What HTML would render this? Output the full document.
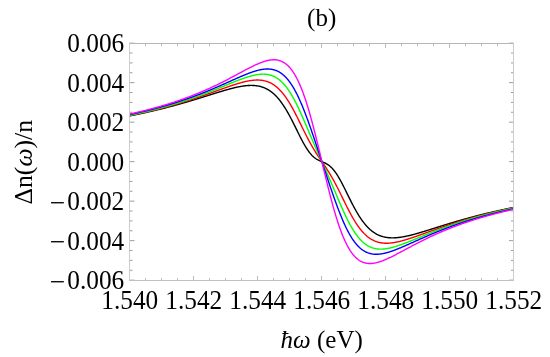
<!DOCTYPE html>
<html><head><meta charset="utf-8"><style>
html,body{margin:0;padding:0;background:#fff;}
svg{display:block;}
text{font-family:"Liberation Serif","Times New Roman",serif;font-size:25.3px;fill:#000;}
</style></head><body>
<svg width="550" height="357" viewBox="0 0 550 357">
<rect x="0" y="0" width="550" height="357" fill="#fff"/>
<text x="321.7" y="26.3" text-anchor="middle" style="font-size:25px">(b)</text>
<g fill="none" stroke-width="1.4" stroke-linejoin="round">
<path d="M129.50,115.92 L130.00,115.82 L130.50,115.72 L131.00,115.62 L131.50,115.52 L132.00,115.42 L132.50,115.32 L133.00,115.22 L133.50,115.12 L134.00,115.02 L134.50,114.92 L135.00,114.82 L135.50,114.72 L136.00,114.61 L136.50,114.51 L137.00,114.41 L137.50,114.30 L138.00,114.20 L138.50,114.09 L139.00,113.99 L139.50,113.88 L140.00,113.78 L140.50,113.67 L141.00,113.56 L141.50,113.46 L142.00,113.35 L142.50,113.24 L143.00,113.13 L143.50,113.02 L144.00,112.92 L144.50,112.81 L145.00,112.70 L145.50,112.59 L146.00,112.48 L146.50,112.36 L147.00,112.25 L147.50,112.14 L148.00,112.03 L148.50,111.92 L149.00,111.80 L149.50,111.69 L150.00,111.58 L150.50,111.46 L151.00,111.35 L151.50,111.23 L152.00,111.12 L152.50,111.00 L153.00,110.88 L153.50,110.77 L154.00,110.65 L154.50,110.53 L155.00,110.41 L155.50,110.29 L156.00,110.17 L156.50,110.06 L157.00,109.94 L157.50,109.81 L158.00,109.69 L158.50,109.57 L159.00,109.45 L159.50,109.33 L160.00,109.21 L160.50,109.08 L161.00,108.96 L161.50,108.84 L162.00,108.71 L162.50,108.59 L163.00,108.46 L163.50,108.34 L164.00,108.21 L164.50,108.08 L165.00,107.96 L165.50,107.83 L166.00,107.70 L166.50,107.57 L167.00,107.44 L167.50,107.31 L168.00,107.19 L168.50,107.06 L169.00,106.92 L169.50,106.79 L170.00,106.66 L170.50,106.53 L171.00,106.40 L171.50,106.26 L172.00,106.13 L172.50,106.00 L173.00,105.86 L173.50,105.73 L174.00,105.59 L174.50,105.46 L175.00,105.32 L175.50,105.19 L176.00,105.05 L176.50,104.91 L177.00,104.77 L177.50,104.64 L178.00,104.50 L178.50,104.36 L179.00,104.22 L179.50,104.08 L180.00,103.94 L180.50,103.80 L181.00,103.66 L181.50,103.52 L182.00,103.37 L182.50,103.23 L183.00,103.09 L183.50,102.95 L184.00,102.80 L184.50,102.66 L185.00,102.51 L185.50,102.37 L186.00,102.22 L186.50,102.08 L187.00,101.93 L187.50,101.78 L188.00,101.64 L188.50,101.49 L189.00,101.34 L189.50,101.19 L190.00,101.05 L190.50,100.90 L191.00,100.75 L191.50,100.60 L192.00,100.45 L192.50,100.30 L193.00,100.15 L193.50,100.00 L194.00,99.85 L194.50,99.69 L195.00,99.54 L195.50,99.39 L196.00,99.24 L196.50,99.09 L197.00,98.93 L197.50,98.78 L198.00,98.63 L198.50,98.47 L199.00,98.32 L199.50,98.16 L200.00,98.01 L200.50,97.85 L201.00,97.70 L201.50,97.54 L202.00,97.39 L202.50,97.23 L203.00,97.08 L203.50,96.92 L204.00,96.76 L204.50,96.61 L205.00,96.45 L205.50,96.29 L206.00,96.14 L206.50,95.98 L207.00,95.82 L207.50,95.67 L208.00,95.51 L208.50,95.35 L209.00,95.20 L209.50,95.04 L210.00,94.88 L210.50,94.72 L211.00,94.57 L211.50,94.41 L212.00,94.25 L212.50,94.10 L213.00,93.94 L213.50,93.78 L214.00,93.63 L214.50,93.47 L215.00,93.32 L215.50,93.16 L216.00,93.01 L216.50,92.85 L217.00,92.70 L217.50,92.54 L218.00,92.39 L218.50,92.23 L219.00,92.08 L219.50,91.93 L220.00,91.78 L220.50,91.62 L221.00,91.47 L221.50,91.32 L222.00,91.17 L222.50,91.02 L223.00,90.87 L223.50,90.73 L224.00,90.58 L224.50,90.43 L225.00,90.29 L225.50,90.14 L226.00,90.00 L226.50,89.86 L227.00,89.72 L227.50,89.58 L228.00,89.44 L228.50,89.30 L229.00,89.16 L229.50,89.03 L230.00,88.89 L230.50,88.76 L231.00,88.63 L231.50,88.50 L232.00,88.37 L232.50,88.24 L233.00,88.12 L233.50,87.99 L234.00,87.87 L234.50,87.75 L235.00,87.63 L235.50,87.52 L236.00,87.41 L236.50,87.29 L237.00,87.18 L237.50,87.08 L238.00,86.97 L238.50,86.87 L239.00,86.77 L239.50,86.67 L240.00,86.58 L240.50,86.49 L241.00,86.40 L241.50,86.32 L242.00,86.23 L242.50,86.15 L243.00,86.08 L243.50,86.01 L244.00,85.94 L244.50,85.87 L245.00,85.81 L245.50,85.75 L246.00,85.70 L246.50,85.65 L247.00,85.61 L247.50,85.57 L248.00,85.53 L248.50,85.50 L249.00,85.47 L249.50,85.45 L250.00,85.43 L250.50,85.42 L251.00,85.42 L251.50,85.42 L252.00,85.42 L252.50,85.43 L253.00,85.45 L253.50,85.47 L254.00,85.50 L254.50,85.54 L255.00,85.58 L255.50,85.63 L256.00,85.68 L256.50,85.75 L257.00,85.82 L257.50,85.90 L258.00,85.98 L258.50,86.08 L259.00,86.18 L259.50,86.29 L260.00,86.41 L260.50,86.54 L261.00,86.67 L261.50,86.82 L262.00,86.97 L262.50,87.14 L263.00,87.31 L263.50,87.50 L264.00,87.69 L264.50,87.90 L265.00,88.11 L265.50,88.34 L266.00,88.58 L266.50,88.83 L267.00,89.09 L267.50,89.36 L268.00,89.65 L268.50,89.95 L269.00,90.26 L269.50,90.58 L270.00,90.91 L270.50,91.26 L271.00,91.62 L271.50,92.00 L272.00,92.39 L272.50,92.79 L273.00,93.21 L273.50,93.64 L274.00,94.09 L274.50,94.55 L275.00,95.03 L275.50,95.52 L276.00,96.03 L276.50,96.55 L277.00,97.09 L277.50,97.64 L278.00,98.21 L278.50,98.80 L279.00,99.40 L279.50,100.01 L280.00,100.65 L280.50,101.30 L281.00,101.96 L281.50,102.65 L282.00,103.34 L282.50,104.06 L283.00,104.79 L283.50,105.53 L284.00,106.30 L284.50,107.07 L285.00,107.87 L285.50,108.67 L286.00,109.50 L286.50,110.33 L287.00,111.19 L287.50,112.05 L288.00,112.93 L288.50,113.82 L289.00,114.73 L289.50,115.65 L290.00,116.58 L290.50,117.52 L291.00,118.47 L291.50,119.43 L292.00,120.40 L292.50,121.38 L293.00,122.37 L293.50,123.36 L294.00,124.36 L294.50,125.37 L295.00,126.38 L295.50,127.39 L296.00,128.40 L296.50,129.42 L297.00,130.43 L297.50,131.45 L298.00,132.46 L298.50,133.47 L299.00,134.48 L299.50,135.48 L300.00,136.47 L300.50,137.45 L301.00,138.43 L301.50,139.40 L302.00,140.35 L302.50,141.29 L303.00,142.22 L303.50,143.13 L304.00,144.02 L304.50,144.90 L305.00,145.76 L305.50,146.60 L306.00,147.42 L306.50,148.22 L307.00,148.99 L307.50,149.74 L308.00,150.47 L308.50,151.18 L309.00,151.86 L309.50,152.51 L310.00,153.14 L310.50,153.74 L311.00,154.32 L311.50,154.87 L312.00,155.40 L312.50,155.90 L313.00,156.37 L313.50,156.82 L314.00,157.25 L314.50,157.65 L315.00,158.03 L315.50,158.39 L316.00,158.73 L316.50,159.05 L317.00,159.35 L317.50,159.63 L318.00,159.90 L318.50,160.15 L319.00,160.39 L319.50,160.63 L320.00,160.85 L320.50,161.07 L321.00,161.28 L321.50,161.48 L322.00,161.69 L322.50,161.90 L323.00,162.11 L323.50,162.32 L324.00,162.54 L324.50,162.76 L325.00,163.00 L325.50,163.25 L326.00,163.51 L326.50,163.79 L327.00,164.08 L327.50,164.39 L328.00,164.71 L328.50,165.06 L329.00,165.43 L329.50,165.82 L330.00,166.24 L330.50,166.67 L331.00,167.13 L331.50,167.62 L332.00,168.13 L332.50,168.67 L333.00,169.24 L333.50,169.83 L334.00,170.44 L334.50,171.08 L335.00,171.75 L335.50,172.44 L336.00,173.16 L336.50,173.90 L337.00,174.66 L337.50,175.45 L338.00,176.25 L338.50,177.08 L339.00,177.93 L339.50,178.80 L340.00,179.69 L340.50,180.59 L341.00,181.51 L341.50,182.44 L342.00,183.39 L342.50,184.35 L343.00,185.32 L343.50,186.30 L344.00,187.29 L344.50,188.28 L345.00,189.29 L345.50,190.29 L346.00,191.30 L346.50,192.32 L347.00,193.33 L347.50,194.35 L348.00,195.37 L348.50,196.38 L349.00,197.39 L349.50,198.40 L350.00,199.40 L350.50,200.40 L351.00,201.39 L351.50,202.37 L352.00,203.35 L352.50,204.31 L353.00,205.27 L353.50,206.22 L354.00,207.15 L354.50,208.08 L355.00,208.99 L355.50,209.89 L356.00,210.77 L356.50,211.65 L357.00,212.51 L357.50,213.35 L358.00,214.18 L358.50,215.00 L359.00,215.80 L359.50,216.58 L360.00,217.35 L360.50,218.11 L361.00,218.85 L361.50,219.57 L362.00,220.28 L362.50,220.97 L363.00,221.64 L363.50,222.30 L364.00,222.94 L364.50,223.57 L365.00,224.18 L365.50,224.77 L366.00,225.35 L366.50,225.91 L367.00,226.45 L367.50,226.99 L368.00,227.50 L368.50,228.00 L369.00,228.48 L369.50,228.95 L370.00,229.41 L370.50,229.85 L371.00,230.27 L371.50,230.68 L372.00,231.08 L372.50,231.46 L373.00,231.83 L373.50,232.19 L374.00,232.53 L374.50,232.86 L375.00,233.18 L375.50,233.48 L376.00,233.77 L376.50,234.05 L377.00,234.32 L377.50,234.57 L378.00,234.82 L378.50,235.05 L379.00,235.27 L379.50,235.48 L380.00,235.68 L380.50,235.87 L381.00,236.05 L381.50,236.22 L382.00,236.38 L382.50,236.53 L383.00,236.68 L383.50,236.81 L384.00,236.93 L384.50,237.05 L385.00,237.15 L385.50,237.25 L386.00,237.34 L386.50,237.42 L387.00,237.50 L387.50,237.56 L388.00,237.62 L388.50,237.68 L389.00,237.72 L389.50,237.76 L390.00,237.80 L390.50,237.82 L391.00,237.84 L391.50,237.86 L392.00,237.86 L392.50,237.87 L393.00,237.86 L393.50,237.85 L394.00,237.84 L394.50,237.82 L395.00,237.80 L395.50,237.77 L396.00,237.73 L396.50,237.70 L397.00,237.65 L397.50,237.61 L398.00,237.55 L398.50,237.50 L399.00,237.44 L399.50,237.38 L400.00,237.31 L400.50,237.24 L401.00,237.17 L401.50,237.09 L402.00,237.01 L402.50,236.92 L403.00,236.84 L403.50,236.75 L404.00,236.66 L404.50,236.56 L405.00,236.46 L405.50,236.36 L406.00,236.26 L406.50,236.15 L407.00,236.04 L407.50,235.93 L408.00,235.82 L408.50,235.71 L409.00,235.59 L409.50,235.47 L410.00,235.35 L410.50,235.23 L411.00,235.10 L411.50,234.98 L412.00,234.85 L412.50,234.72 L413.00,234.59 L413.50,234.46 L414.00,234.32 L414.50,234.19 L415.00,234.05 L415.50,233.92 L416.00,233.78 L416.50,233.64 L417.00,233.50 L417.50,233.35 L418.00,233.21 L418.50,233.07 L419.00,232.92 L419.50,232.78 L420.00,232.63 L420.50,232.48 L421.00,232.33 L421.50,232.19 L422.00,232.04 L422.50,231.89 L423.00,231.74 L423.50,231.58 L424.00,231.43 L424.50,231.28 L425.00,231.13 L425.50,230.97 L426.00,230.82 L426.50,230.67 L427.00,230.51 L427.50,230.36 L428.00,230.20 L428.50,230.05 L429.00,229.89 L429.50,229.73 L430.00,229.58 L430.50,229.42 L431.00,229.27 L431.50,229.11 L432.00,228.95 L432.50,228.79 L433.00,228.64 L433.50,228.48 L434.00,228.32 L434.50,228.17 L435.00,228.01 L435.50,227.85 L436.00,227.70 L436.50,227.54 L437.00,227.38 L437.50,227.23 L438.00,227.07 L438.50,226.91 L439.00,226.76 L439.50,226.60 L440.00,226.44 L440.50,226.29 L441.00,226.13 L441.50,225.97 L442.00,225.82 L442.50,225.66 L443.00,225.51 L443.50,225.35 L444.00,225.20 L444.50,225.04 L445.00,224.89 L445.50,224.74 L446.00,224.58 L446.50,224.43 L447.00,224.27 L447.50,224.12 L448.00,223.97 L448.50,223.82 L449.00,223.66 L449.50,223.51 L450.00,223.36 L450.50,223.21 L451.00,223.06 L451.50,222.91 L452.00,222.76 L452.50,222.61 L453.00,222.46 L453.50,222.31 L454.00,222.16 L454.50,222.01 L455.00,221.87 L455.50,221.72 L456.00,221.57 L456.50,221.43 L457.00,221.28 L457.50,221.13 L458.00,220.99 L458.50,220.84 L459.00,220.70 L459.50,220.55 L460.00,220.41 L460.50,220.27 L461.00,220.12 L461.50,219.98 L462.00,219.84 L462.50,219.70 L463.00,219.56 L463.50,219.41 L464.00,219.27 L464.50,219.13 L465.00,218.99 L465.50,218.85 L466.00,218.72 L466.50,218.58 L467.00,218.44 L467.50,218.30 L468.00,218.17 L468.50,218.03 L469.00,217.89 L469.50,217.76 L470.00,217.62 L470.50,217.49 L471.00,217.35 L471.50,217.22 L472.00,217.08 L472.50,216.95 L473.00,216.82 L473.50,216.69 L474.00,216.56 L474.50,216.42 L475.00,216.29 L475.50,216.16 L476.00,216.03 L476.50,215.90 L477.00,215.77 L477.50,215.65 L478.00,215.52 L478.50,215.39 L479.00,215.26 L479.50,215.14 L480.00,215.01 L480.50,214.88 L481.00,214.76 L481.50,214.63 L482.00,214.51 L482.50,214.39 L483.00,214.26 L483.50,214.14 L484.00,214.02 L484.50,213.89 L485.00,213.77 L485.50,213.65 L486.00,213.53 L486.50,213.41 L487.00,213.29 L487.50,213.17 L488.00,213.05 L488.50,212.93 L489.00,212.81 L489.50,212.69 L490.00,212.58 L490.50,212.46 L491.00,212.34 L491.50,212.23 L492.00,212.11 L492.50,211.99 L493.00,211.88 L493.50,211.76 L494.00,211.65 L494.50,211.54 L495.00,211.42 L495.50,211.31 L496.00,211.20 L496.50,211.09 L497.00,210.97 L497.50,210.86 L498.00,210.75 L498.50,210.64 L499.00,210.53 L499.50,210.42 L500.00,210.31 L500.50,210.20 L501.00,210.10 L501.50,209.99 L502.00,209.88 L502.50,209.77 L503.00,209.67 L503.50,209.56 L504.00,209.45 L504.50,209.35 L505.00,209.24 L505.50,209.14 L506.00,209.03 L506.50,208.93 L507.00,208.83 L507.50,208.72 L508.00,208.62 L508.50,208.52 L509.00,208.41 L509.50,208.31 L510.00,208.21 L510.50,208.11 L511.00,208.01 L511.50,207.91 L512.00,207.81 L512.50,207.71 L513.00,207.61 L513.50,207.51" stroke="#000000"/><path d="M129.50,115.68 L130.00,115.58 L130.50,115.48 L131.00,115.38 L131.50,115.28 L132.00,115.17 L132.50,115.07 L133.00,114.97 L133.50,114.86 L134.00,114.76 L134.50,114.65 L135.00,114.55 L135.50,114.44 L136.00,114.34 L136.50,114.23 L137.00,114.12 L137.50,114.01 L138.00,113.91 L138.50,113.80 L139.00,113.69 L139.50,113.58 L140.00,113.47 L140.50,113.36 L141.00,113.25 L141.50,113.14 L142.00,113.03 L142.50,112.92 L143.00,112.80 L143.50,112.69 L144.00,112.58 L144.50,112.46 L145.00,112.35 L145.50,112.24 L146.00,112.12 L146.50,112.01 L147.00,111.89 L147.50,111.77 L148.00,111.66 L148.50,111.54 L149.00,111.42 L149.50,111.30 L150.00,111.19 L150.50,111.07 L151.00,110.95 L151.50,110.83 L152.00,110.71 L152.50,110.59 L153.00,110.46 L153.50,110.34 L154.00,110.22 L154.50,110.10 L155.00,109.97 L155.50,109.85 L156.00,109.72 L156.50,109.60 L157.00,109.47 L157.50,109.35 L158.00,109.22 L158.50,109.10 L159.00,108.97 L159.50,108.84 L160.00,108.71 L160.50,108.58 L161.00,108.45 L161.50,108.32 L162.00,108.19 L162.50,108.06 L163.00,107.93 L163.50,107.80 L164.00,107.67 L164.50,107.53 L165.00,107.40 L165.50,107.27 L166.00,107.13 L166.50,107.00 L167.00,106.86 L167.50,106.72 L168.00,106.59 L168.50,106.45 L169.00,106.31 L169.50,106.17 L170.00,106.04 L170.50,105.90 L171.00,105.76 L171.50,105.62 L172.00,105.47 L172.50,105.33 L173.00,105.19 L173.50,105.05 L174.00,104.90 L174.50,104.76 L175.00,104.62 L175.50,104.47 L176.00,104.33 L176.50,104.18 L177.00,104.03 L177.50,103.89 L178.00,103.74 L178.50,103.59 L179.00,103.44 L179.50,103.29 L180.00,103.14 L180.50,102.99 L181.00,102.84 L181.50,102.69 L182.00,102.54 L182.50,102.39 L183.00,102.23 L183.50,102.08 L184.00,101.93 L184.50,101.77 L185.00,101.62 L185.50,101.46 L186.00,101.31 L186.50,101.15 L187.00,100.99 L187.50,100.83 L188.00,100.67 L188.50,100.52 L189.00,100.36 L189.50,100.20 L190.00,100.04 L190.50,99.87 L191.00,99.71 L191.50,99.55 L192.00,99.39 L192.50,99.23 L193.00,99.06 L193.50,98.90 L194.00,98.73 L194.50,98.57 L195.00,98.40 L195.50,98.24 L196.00,98.07 L196.50,97.90 L197.00,97.73 L197.50,97.57 L198.00,97.40 L198.50,97.23 L199.00,97.06 L199.50,96.89 L200.00,96.72 L200.50,96.55 L201.00,96.38 L201.50,96.21 L202.00,96.03 L202.50,95.86 L203.00,95.69 L203.50,95.51 L204.00,95.34 L204.50,95.17 L205.00,94.99 L205.50,94.82 L206.00,94.64 L206.50,94.47 L207.00,94.29 L207.50,94.11 L208.00,93.94 L208.50,93.76 L209.00,93.58 L209.50,93.41 L210.00,93.23 L210.50,93.05 L211.00,92.87 L211.50,92.69 L212.00,92.51 L212.50,92.34 L213.00,92.16 L213.50,91.98 L214.00,91.80 L214.50,91.62 L215.00,91.44 L215.50,91.26 L216.00,91.08 L216.50,90.90 L217.00,90.72 L217.50,90.54 L218.00,90.36 L218.50,90.18 L219.00,90.00 L219.50,89.82 L220.00,89.64 L220.50,89.46 L221.00,89.28 L221.50,89.10 L222.00,88.93 L222.50,88.75 L223.00,88.57 L223.50,88.39 L224.00,88.21 L224.50,88.04 L225.00,87.86 L225.50,87.68 L226.00,87.51 L226.50,87.33 L227.00,87.16 L227.50,86.98 L228.00,86.81 L228.50,86.64 L229.00,86.46 L229.50,86.29 L230.00,86.12 L230.50,85.95 L231.00,85.78 L231.50,85.61 L232.00,85.45 L232.50,85.28 L233.00,85.12 L233.50,84.95 L234.00,84.79 L234.50,84.63 L235.00,84.47 L235.50,84.31 L236.00,84.15 L236.50,84.00 L237.00,83.84 L237.50,83.69 L238.00,83.54 L238.50,83.39 L239.00,83.24 L239.50,83.10 L240.00,82.96 L240.50,82.82 L241.00,82.68 L241.50,82.54 L242.00,82.41 L242.50,82.28 L243.00,82.15 L243.50,82.02 L244.00,81.90 L244.50,81.78 L245.00,81.66 L245.50,81.55 L246.00,81.43 L246.50,81.33 L247.00,81.22 L247.50,81.12 L248.00,81.02 L248.50,80.93 L249.00,80.84 L249.50,80.75 L250.00,80.67 L250.50,80.59 L251.00,80.52 L251.50,80.45 L252.00,80.39 L252.50,80.33 L253.00,80.28 L253.50,80.23 L254.00,80.19 L254.50,80.15 L255.00,80.12 L255.50,80.09 L256.00,80.07 L256.50,80.05 L257.00,80.05 L257.50,80.04 L258.00,80.05 L258.50,80.06 L259.00,80.08 L259.50,80.11 L260.00,80.14 L260.50,80.18 L261.00,80.23 L261.50,80.29 L262.00,80.36 L262.50,80.43 L263.00,80.51 L263.50,80.61 L264.00,80.71 L264.50,80.82 L265.00,80.94 L265.50,81.07 L266.00,81.21 L266.50,81.36 L267.00,81.52 L267.50,81.69 L268.00,81.87 L268.50,82.07 L269.00,82.27 L269.50,82.49 L270.00,82.72 L270.50,82.96 L271.00,83.21 L271.50,83.48 L272.00,83.76 L272.50,84.05 L273.00,84.35 L273.50,84.67 L274.00,85.01 L274.50,85.35 L275.00,85.72 L275.50,86.09 L276.00,86.48 L276.50,86.89 L277.00,87.31 L277.50,87.74 L278.00,88.19 L278.50,88.66 L279.00,89.14 L279.50,89.64 L280.00,90.15 L280.50,90.68 L281.00,91.23 L281.50,91.79 L282.00,92.37 L282.50,92.97 L283.00,93.58 L283.50,94.20 L284.00,94.85 L284.50,95.51 L285.00,96.19 L285.50,96.88 L286.00,97.59 L286.50,98.32 L287.00,99.06 L287.50,99.82 L288.00,100.59 L288.50,101.38 L289.00,102.18 L289.50,103.00 L290.00,103.84 L290.50,104.68 L291.00,105.55 L291.50,106.42 L292.00,107.31 L292.50,108.21 L293.00,109.12 L293.50,110.05 L294.00,110.98 L294.50,111.93 L295.00,112.89 L295.50,113.85 L296.00,114.83 L296.50,115.81 L297.00,116.80 L297.50,117.80 L298.00,118.80 L298.50,119.81 L299.00,120.82 L299.50,121.84 L300.00,122.86 L300.50,123.88 L301.00,124.90 L301.50,125.92 L302.00,126.94 L302.50,127.96 L303.00,128.98 L303.50,129.99 L304.00,131.01 L304.50,132.01 L305.00,133.02 L305.50,134.01 L306.00,135.00 L306.50,135.99 L307.00,136.96 L307.50,137.93 L308.00,138.89 L308.50,139.83 L309.00,140.77 L309.50,141.70 L310.00,142.62 L310.50,143.53 L311.00,144.43 L311.50,145.31 L312.00,146.19 L312.50,147.05 L313.00,147.91 L313.50,148.75 L314.00,149.58 L314.50,150.40 L315.00,151.21 L315.50,152.01 L316.00,152.81 L316.50,153.59 L317.00,154.37 L317.50,155.13 L318.00,155.89 L318.50,156.65 L319.00,157.40 L319.50,158.14 L320.00,158.88 L320.50,159.62 L321.00,160.35 L321.50,161.08 L322.00,161.82 L322.50,162.55 L323.00,163.28 L323.50,164.02 L324.00,164.76 L324.50,165.50 L325.00,166.24 L325.50,166.99 L326.00,167.75 L326.50,168.52 L327.00,169.29 L327.50,170.07 L328.00,170.85 L328.50,171.65 L329.00,172.46 L329.50,173.27 L330.00,174.10 L330.50,174.94 L331.00,175.78 L331.50,176.64 L332.00,177.51 L332.50,178.39 L333.00,179.28 L333.50,180.19 L334.00,181.10 L334.50,182.02 L335.00,182.96 L335.50,183.90 L336.00,184.86 L336.50,185.82 L337.00,186.79 L337.50,187.77 L338.00,188.75 L338.50,189.75 L339.00,190.75 L339.50,191.75 L340.00,192.76 L340.50,193.77 L341.00,194.79 L341.50,195.81 L342.00,196.83 L342.50,197.85 L343.00,198.87 L343.50,199.90 L344.00,200.92 L344.50,201.93 L345.00,202.95 L345.50,203.96 L346.00,204.96 L346.50,205.96 L347.00,206.96 L347.50,207.94 L348.00,208.92 L348.50,209.89 L349.00,210.85 L349.50,211.81 L350.00,212.75 L350.50,213.68 L351.00,214.60 L351.50,215.51 L352.00,216.40 L352.50,217.28 L353.00,218.15 L353.50,219.01 L354.00,219.85 L354.50,220.67 L355.00,221.49 L355.50,222.28 L356.00,223.06 L356.50,223.83 L357.00,224.58 L357.50,225.32 L358.00,226.03 L358.50,226.74 L359.00,227.42 L359.50,228.09 L360.00,228.74 L360.50,229.38 L361.00,230.00 L361.50,230.60 L362.00,231.19 L362.50,231.76 L363.00,232.32 L363.50,232.85 L364.00,233.38 L364.50,233.88 L365.00,234.37 L365.50,234.85 L366.00,235.31 L366.50,235.75 L367.00,236.18 L367.50,236.59 L368.00,236.99 L368.50,237.37 L369.00,237.74 L369.50,238.10 L370.00,238.44 L370.50,238.76 L371.00,239.07 L371.50,239.37 L372.00,239.66 L372.50,239.93 L373.00,240.19 L373.50,240.44 L374.00,240.68 L374.50,240.90 L375.00,241.11 L375.50,241.31 L376.00,241.50 L376.50,241.68 L377.00,241.84 L377.50,242.00 L378.00,242.14 L378.50,242.28 L379.00,242.40 L379.50,242.52 L380.00,242.62 L380.50,242.72 L381.00,242.81 L381.50,242.89 L382.00,242.96 L382.50,243.02 L383.00,243.07 L383.50,243.12 L384.00,243.16 L384.50,243.19 L385.00,243.21 L385.50,243.23 L386.00,243.23 L386.50,243.24 L387.00,243.23 L387.50,243.22 L388.00,243.20 L388.50,243.18 L389.00,243.15 L389.50,243.12 L390.00,243.08 L390.50,243.03 L391.00,242.98 L391.50,242.92 L392.00,242.86 L392.50,242.79 L393.00,242.72 L393.50,242.65 L394.00,242.57 L394.50,242.49 L395.00,242.40 L395.50,242.31 L396.00,242.21 L396.50,242.11 L397.00,242.01 L397.50,241.90 L398.00,241.79 L398.50,241.68 L399.00,241.56 L399.50,241.45 L400.00,241.32 L400.50,241.20 L401.00,241.07 L401.50,240.94 L402.00,240.81 L402.50,240.67 L403.00,240.54 L403.50,240.40 L404.00,240.26 L404.50,240.11 L405.00,239.97 L405.50,239.82 L406.00,239.67 L406.50,239.52 L407.00,239.36 L407.50,239.21 L408.00,239.05 L408.50,238.90 L409.00,238.74 L409.50,238.58 L410.00,238.41 L410.50,238.25 L411.00,238.09 L411.50,237.92 L412.00,237.75 L412.50,237.59 L413.00,237.42 L413.50,237.25 L414.00,237.08 L414.50,236.91 L415.00,236.74 L415.50,236.56 L416.00,236.39 L416.50,236.22 L417.00,236.04 L417.50,235.87 L418.00,235.69 L418.50,235.51 L419.00,235.34 L419.50,235.16 L420.00,234.98 L420.50,234.80 L421.00,234.63 L421.50,234.45 L422.00,234.27 L422.50,234.09 L423.00,233.91 L423.50,233.73 L424.00,233.55 L424.50,233.37 L425.00,233.19 L425.50,233.01 L426.00,232.83 L426.50,232.65 L427.00,232.47 L427.50,232.29 L428.00,232.11 L428.50,231.93 L429.00,231.76 L429.50,231.58 L430.00,231.40 L430.50,231.22 L431.00,231.04 L431.50,230.86 L432.00,230.68 L432.50,230.50 L433.00,230.32 L433.50,230.15 L434.00,229.97 L434.50,229.79 L435.00,229.61 L435.50,229.44 L436.00,229.26 L436.50,229.08 L437.00,228.91 L437.50,228.73 L438.00,228.56 L438.50,228.38 L439.00,228.21 L439.50,228.03 L440.00,227.86 L440.50,227.68 L441.00,227.51 L441.50,227.34 L442.00,227.17 L442.50,226.99 L443.00,226.82 L443.50,226.65 L444.00,226.48 L444.50,226.31 L445.00,226.14 L445.50,225.97 L446.00,225.80 L446.50,225.63 L447.00,225.47 L447.50,225.30 L448.00,225.13 L448.50,224.96 L449.00,224.80 L449.50,224.63 L450.00,224.47 L450.50,224.30 L451.00,224.14 L451.50,223.98 L452.00,223.81 L452.50,223.65 L453.00,223.49 L453.50,223.33 L454.00,223.17 L454.50,223.01 L455.00,222.85 L455.50,222.69 L456.00,222.53 L456.50,222.37 L457.00,222.21 L457.50,222.06 L458.00,221.90 L458.50,221.74 L459.00,221.59 L459.50,221.43 L460.00,221.28 L460.50,221.13 L461.00,220.97 L461.50,220.82 L462.00,220.67 L462.50,220.52 L463.00,220.36 L463.50,220.21 L464.00,220.06 L464.50,219.91 L465.00,219.77 L465.50,219.62 L466.00,219.47 L466.50,219.32 L467.00,219.18 L467.50,219.03 L468.00,218.88 L468.50,218.74 L469.00,218.59 L469.50,218.45 L470.00,218.31 L470.50,218.16 L471.00,218.02 L471.50,217.88 L472.00,217.74 L472.50,217.60 L473.00,217.46 L473.50,217.32 L474.00,217.18 L474.50,217.04 L475.00,216.90 L475.50,216.76 L476.00,216.63 L476.50,216.49 L477.00,216.36 L477.50,216.22 L478.00,216.09 L478.50,215.95 L479.00,215.82 L479.50,215.68 L480.00,215.55 L480.50,215.42 L481.00,215.29 L481.50,215.16 L482.00,215.02 L482.50,214.89 L483.00,214.77 L483.50,214.64 L484.00,214.51 L484.50,214.38 L485.00,214.25 L485.50,214.12 L486.00,214.00 L486.50,213.87 L487.00,213.75 L487.50,213.62 L488.00,213.50 L488.50,213.37 L489.00,213.25 L489.50,213.13 L490.00,213.00 L490.50,212.88 L491.00,212.76 L491.50,212.64 L492.00,212.52 L492.50,212.40 L493.00,212.28 L493.50,212.16 L494.00,212.04 L494.50,211.92 L495.00,211.80 L495.50,211.68 L496.00,211.57 L496.50,211.45 L497.00,211.33 L497.50,211.22 L498.00,211.10 L498.50,210.99 L499.00,210.88 L499.50,210.76 L500.00,210.65 L500.50,210.54 L501.00,210.42 L501.50,210.31 L502.00,210.20 L502.50,210.09 L503.00,209.98 L503.50,209.87 L504.00,209.76 L504.50,209.65 L505.00,209.54 L505.50,209.43 L506.00,209.32 L506.50,209.21 L507.00,209.11 L507.50,209.00 L508.00,208.89 L508.50,208.79 L509.00,208.68 L509.50,208.58 L510.00,208.47 L510.50,208.37 L511.00,208.26 L511.50,208.16 L512.00,208.06 L512.50,207.96 L513.00,207.85 L513.50,207.75" stroke="#ff0000"/><path d="M129.50,115.38 L130.00,115.28 L130.50,115.17 L131.00,115.07 L131.50,114.96 L132.00,114.85 L132.50,114.75 L133.00,114.64 L133.50,114.54 L134.00,114.43 L134.50,114.32 L135.00,114.21 L135.50,114.10 L136.00,113.99 L136.50,113.88 L137.00,113.77 L137.50,113.66 L138.00,113.55 L138.50,113.44 L139.00,113.33 L139.50,113.22 L140.00,113.10 L140.50,112.99 L141.00,112.88 L141.50,112.76 L142.00,112.65 L142.50,112.53 L143.00,112.42 L143.50,112.30 L144.00,112.18 L144.50,112.07 L145.00,111.95 L145.50,111.83 L146.00,111.71 L146.50,111.59 L147.00,111.47 L147.50,111.35 L148.00,111.23 L148.50,111.11 L149.00,110.99 L149.50,110.87 L150.00,110.74 L150.50,110.62 L151.00,110.50 L151.50,110.37 L152.00,110.25 L152.50,110.12 L153.00,110.00 L153.50,109.87 L154.00,109.74 L154.50,109.62 L155.00,109.49 L155.50,109.36 L156.00,109.23 L156.50,109.10 L157.00,108.97 L157.50,108.84 L158.00,108.71 L158.50,108.58 L159.00,108.45 L159.50,108.31 L160.00,108.18 L160.50,108.05 L161.00,107.91 L161.50,107.78 L162.00,107.64 L162.50,107.50 L163.00,107.37 L163.50,107.23 L164.00,107.09 L164.50,106.95 L165.00,106.81 L165.50,106.67 L166.00,106.53 L166.50,106.39 L167.00,106.25 L167.50,106.11 L168.00,105.96 L168.50,105.82 L169.00,105.68 L169.50,105.53 L170.00,105.39 L170.50,105.24 L171.00,105.09 L171.50,104.95 L172.00,104.80 L172.50,104.65 L173.00,104.50 L173.50,104.35 L174.00,104.20 L174.50,104.05 L175.00,103.90 L175.50,103.75 L176.00,103.60 L176.50,103.44 L177.00,103.29 L177.50,103.13 L178.00,102.98 L178.50,102.82 L179.00,102.67 L179.50,102.51 L180.00,102.35 L180.50,102.19 L181.00,102.03 L181.50,101.87 L182.00,101.71 L182.50,101.55 L183.00,101.39 L183.50,101.23 L184.00,101.06 L184.50,100.90 L185.00,100.73 L185.50,100.57 L186.00,100.40 L186.50,100.24 L187.00,100.07 L187.50,99.90 L188.00,99.73 L188.50,99.56 L189.00,99.40 L189.50,99.22 L190.00,99.05 L190.50,98.88 L191.00,98.71 L191.50,98.54 L192.00,98.36 L192.50,98.19 L193.00,98.01 L193.50,97.84 L194.00,97.66 L194.50,97.48 L195.00,97.31 L195.50,97.13 L196.00,96.95 L196.50,96.77 L197.00,96.59 L197.50,96.41 L198.00,96.23 L198.50,96.04 L199.00,95.86 L199.50,95.68 L200.00,95.49 L200.50,95.31 L201.00,95.12 L201.50,94.94 L202.00,94.75 L202.50,94.56 L203.00,94.37 L203.50,94.18 L204.00,94.00 L204.50,93.81 L205.00,93.61 L205.50,93.42 L206.00,93.23 L206.50,93.04 L207.00,92.85 L207.50,92.65 L208.00,92.46 L208.50,92.27 L209.00,92.07 L209.50,91.87 L210.00,91.68 L210.50,91.48 L211.00,91.29 L211.50,91.09 L212.00,90.89 L212.50,90.69 L213.00,90.49 L213.50,90.29 L214.00,90.09 L214.50,89.89 L215.00,89.69 L215.50,89.49 L216.00,89.29 L216.50,89.09 L217.00,88.88 L217.50,88.68 L218.00,88.48 L218.50,88.28 L219.00,88.07 L219.50,87.87 L220.00,87.66 L220.50,87.46 L221.00,87.26 L221.50,87.05 L222.00,86.85 L222.50,86.64 L223.00,86.44 L223.50,86.23 L224.00,86.02 L224.50,85.82 L225.00,85.61 L225.50,85.41 L226.00,85.20 L226.50,85.00 L227.00,84.79 L227.50,84.59 L228.00,84.38 L228.50,84.18 L229.00,83.97 L229.50,83.77 L230.00,83.56 L230.50,83.36 L231.00,83.16 L231.50,82.95 L232.00,82.75 L232.50,82.55 L233.00,82.35 L233.50,82.15 L234.00,81.95 L234.50,81.75 L235.00,81.55 L235.50,81.35 L236.00,81.15 L236.50,80.96 L237.00,80.76 L237.50,80.57 L238.00,80.37 L238.50,80.18 L239.00,79.99 L239.50,79.80 L240.00,79.61 L240.50,79.43 L241.00,79.24 L241.50,79.06 L242.00,78.88 L242.50,78.70 L243.00,78.52 L243.50,78.34 L244.00,78.17 L244.50,77.99 L245.00,77.82 L245.50,77.66 L246.00,77.49 L246.50,77.33 L247.00,77.17 L247.50,77.01 L248.00,76.85 L248.50,76.70 L249.00,76.55 L249.50,76.40 L250.00,76.26 L250.50,76.12 L251.00,75.98 L251.50,75.85 L252.00,75.72 L252.50,75.60 L253.00,75.48 L253.50,75.36 L254.00,75.25 L254.50,75.14 L255.00,75.04 L255.50,74.94 L256.00,74.84 L256.50,74.76 L257.00,74.67 L257.50,74.59 L258.00,74.52 L258.50,74.46 L259.00,74.40 L259.50,74.34 L260.00,74.29 L260.50,74.25 L261.00,74.22 L261.50,74.19 L262.00,74.17 L262.50,74.16 L263.00,74.16 L263.50,74.16 L264.00,74.17 L264.50,74.19 L265.00,74.22 L265.50,74.26 L266.00,74.30 L266.50,74.36 L267.00,74.42 L267.50,74.50 L268.00,74.58 L268.50,74.68 L269.00,74.79 L269.50,74.90 L270.00,75.03 L270.50,75.17 L271.00,75.32 L271.50,75.49 L272.00,75.66 L272.50,75.85 L273.00,76.05 L273.50,76.26 L274.00,76.49 L274.50,76.73 L275.00,76.99 L275.50,77.26 L276.00,77.54 L276.50,77.84 L277.00,78.16 L277.50,78.48 L278.00,78.83 L278.50,79.19 L279.00,79.57 L279.50,79.96 L280.00,80.37 L280.50,80.80 L281.00,81.24 L281.50,81.70 L282.00,82.18 L282.50,82.68 L283.00,83.19 L283.50,83.72 L284.00,84.27 L284.50,84.84 L285.00,85.43 L285.50,86.04 L286.00,86.66 L286.50,87.30 L287.00,87.97 L287.50,88.65 L288.00,89.35 L288.50,90.07 L289.00,90.81 L289.50,91.56 L290.00,92.34 L290.50,93.13 L291.00,93.94 L291.50,94.77 L292.00,95.62 L292.50,96.49 L293.00,97.37 L293.50,98.28 L294.00,99.20 L294.50,100.13 L295.00,101.08 L295.50,102.05 L296.00,103.04 L296.50,104.03 L297.00,105.05 L297.50,106.08 L298.00,107.12 L298.50,108.17 L299.00,109.24 L299.50,110.32 L300.00,111.41 L300.50,112.51 L301.00,113.62 L301.50,114.74 L302.00,115.87 L302.50,117.01 L303.00,118.15 L303.50,119.31 L304.00,120.46 L304.50,121.62 L305.00,122.79 L305.50,123.96 L306.00,125.14 L306.50,126.31 L307.00,127.49 L307.50,128.67 L308.00,129.85 L308.50,131.03 L309.00,132.21 L309.50,133.39 L310.00,134.57 L310.50,135.74 L311.00,136.91 L311.50,138.08 L312.00,139.25 L312.50,140.42 L313.00,141.58 L313.50,142.73 L314.00,143.89 L314.50,145.04 L315.00,146.18 L315.50,147.33 L316.00,148.46 L316.50,149.60 L317.00,150.73 L317.50,151.86 L318.00,152.98 L318.50,154.10 L319.00,155.22 L319.50,156.34 L320.00,157.46 L320.50,158.57 L321.00,159.68 L321.50,160.80 L322.00,161.91 L322.50,163.02 L323.00,164.13 L323.50,165.25 L324.00,166.36 L324.50,167.48 L325.00,168.59 L325.50,169.72 L326.00,170.84 L326.50,171.97 L327.00,173.09 L327.50,174.23 L328.00,175.36 L328.50,176.50 L329.00,177.65 L329.50,178.80 L330.00,179.95 L330.50,181.10 L331.00,182.26 L331.50,183.42 L332.00,184.59 L332.50,185.76 L333.00,186.93 L333.50,188.10 L334.00,189.28 L334.50,190.46 L335.00,191.64 L335.50,192.82 L336.00,194.00 L336.50,195.18 L337.00,196.36 L337.50,197.53 L338.00,198.71 L338.50,199.88 L339.00,201.05 L339.50,202.22 L340.00,203.38 L340.50,204.53 L341.00,205.68 L341.50,206.82 L342.00,207.95 L342.50,209.08 L343.00,210.19 L343.50,211.30 L344.00,212.40 L344.50,213.48 L345.00,214.56 L345.50,215.62 L346.00,216.67 L346.50,217.70 L347.00,218.72 L347.50,219.73 L348.00,220.72 L348.50,221.70 L349.00,222.66 L349.50,223.60 L350.00,224.53 L350.50,225.44 L351.00,226.33 L351.50,227.21 L352.00,228.07 L352.50,228.91 L353.00,229.73 L353.50,230.53 L354.00,231.32 L354.50,232.09 L355.00,232.83 L355.50,233.56 L356.00,234.27 L356.50,234.96 L357.00,235.63 L357.50,236.29 L358.00,236.92 L358.50,237.54 L359.00,238.13 L359.50,238.71 L360.00,239.27 L360.50,239.82 L361.00,240.34 L361.50,240.84 L362.00,241.33 L362.50,241.80 L363.00,242.26 L363.50,242.69 L364.00,243.11 L364.50,243.51 L365.00,243.90 L365.50,244.27 L366.00,244.62 L366.50,244.96 L367.00,245.28 L367.50,245.58 L368.00,245.88 L368.50,246.15 L369.00,246.42 L369.50,246.66 L370.00,246.90 L370.50,247.12 L371.00,247.33 L371.50,247.52 L372.00,247.71 L372.50,247.88 L373.00,248.03 L373.50,248.18 L374.00,248.31 L374.50,248.44 L375.00,248.55 L375.50,248.65 L376.00,248.74 L376.50,248.82 L377.00,248.89 L377.50,248.95 L378.00,249.00 L378.50,249.04 L379.00,249.08 L379.50,249.10 L380.00,249.12 L380.50,249.12 L381.00,249.12 L381.50,249.12 L382.00,249.10 L382.50,249.08 L383.00,249.05 L383.50,249.01 L384.00,248.96 L384.50,248.91 L385.00,248.86 L385.50,248.79 L386.00,248.72 L386.50,248.65 L387.00,248.57 L387.50,248.48 L388.00,248.39 L388.50,248.30 L389.00,248.20 L389.50,248.09 L390.00,247.98 L390.50,247.87 L391.00,247.75 L391.50,247.62 L392.00,247.50 L392.50,247.37 L393.00,247.23 L393.50,247.09 L394.00,246.95 L394.50,246.81 L395.00,246.66 L395.50,246.51 L396.00,246.35 L396.50,246.20 L397.00,246.04 L397.50,245.88 L398.00,245.71 L398.50,245.55 L399.00,245.38 L399.50,245.20 L400.00,245.03 L400.50,244.86 L401.00,244.68 L401.50,244.50 L402.00,244.32 L402.50,244.13 L403.00,243.95 L403.50,243.76 L404.00,243.58 L404.50,243.39 L405.00,243.20 L405.50,243.01 L406.00,242.81 L406.50,242.62 L407.00,242.42 L407.50,242.23 L408.00,242.03 L408.50,241.84 L409.00,241.64 L409.50,241.44 L410.00,241.24 L410.50,241.04 L411.00,240.84 L411.50,240.63 L412.00,240.43 L412.50,240.23 L413.00,240.03 L413.50,239.82 L414.00,239.62 L414.50,239.41 L415.00,239.21 L415.50,239.01 L416.00,238.80 L416.50,238.60 L417.00,238.39 L417.50,238.18 L418.00,237.98 L418.50,237.77 L419.00,237.57 L419.50,237.36 L420.00,237.16 L420.50,236.95 L421.00,236.75 L421.50,236.54 L422.00,236.34 L422.50,236.13 L423.00,235.93 L423.50,235.72 L424.00,235.52 L424.50,235.31 L425.00,235.11 L425.50,234.91 L426.00,234.70 L426.50,234.50 L427.00,234.30 L427.50,234.10 L428.00,233.90 L428.50,233.69 L429.00,233.49 L429.50,233.29 L430.00,233.09 L430.50,232.89 L431.00,232.69 L431.50,232.49 L432.00,232.30 L432.50,232.10 L433.00,231.90 L433.50,231.70 L434.00,231.51 L434.50,231.31 L435.00,231.12 L435.50,230.92 L436.00,230.73 L436.50,230.53 L437.00,230.34 L437.50,230.15 L438.00,229.96 L438.50,229.77 L439.00,229.57 L439.50,229.38 L440.00,229.19 L440.50,229.01 L441.00,228.82 L441.50,228.63 L442.00,228.44 L442.50,228.26 L443.00,228.07 L443.50,227.88 L444.00,227.70 L444.50,227.52 L445.00,227.33 L445.50,227.15 L446.00,226.97 L446.50,226.79 L447.00,226.61 L447.50,226.43 L448.00,226.25 L448.50,226.07 L449.00,225.89 L449.50,225.71 L450.00,225.54 L450.50,225.36 L451.00,225.18 L451.50,225.01 L452.00,224.83 L452.50,224.66 L453.00,224.49 L453.50,224.32 L454.00,224.14 L454.50,223.97 L455.00,223.80 L455.50,223.63 L456.00,223.47 L456.50,223.30 L457.00,223.13 L457.50,222.96 L458.00,222.80 L458.50,222.63 L459.00,222.47 L459.50,222.30 L460.00,222.14 L460.50,221.98 L461.00,221.81 L461.50,221.65 L462.00,221.49 L462.50,221.33 L463.00,221.17 L463.50,221.01 L464.00,220.85 L464.50,220.70 L465.00,220.54 L465.50,220.38 L466.00,220.23 L466.50,220.07 L467.00,219.92 L467.50,219.76 L468.00,219.61 L468.50,219.46 L469.00,219.31 L469.50,219.16 L470.00,219.01 L470.50,218.86 L471.00,218.71 L471.50,218.56 L472.00,218.41 L472.50,218.26 L473.00,218.12 L473.50,217.97 L474.00,217.82 L474.50,217.68 L475.00,217.53 L475.50,217.39 L476.00,217.25 L476.50,217.10 L477.00,216.96 L477.50,216.82 L478.00,216.68 L478.50,216.54 L479.00,216.40 L479.50,216.26 L480.00,216.12 L480.50,215.99 L481.00,215.85 L481.50,215.71 L482.00,215.58 L482.50,215.44 L483.00,215.31 L483.50,215.17 L484.00,215.04 L484.50,214.90 L485.00,214.77 L485.50,214.64 L486.00,214.51 L486.50,214.38 L487.00,214.25 L487.50,214.12 L488.00,213.99 L488.50,213.86 L489.00,213.73 L489.50,213.60 L490.00,213.48 L490.50,213.35 L491.00,213.22 L491.50,213.10 L492.00,212.97 L492.50,212.85 L493.00,212.72 L493.50,212.60 L494.00,212.48 L494.50,212.35 L495.00,212.23 L495.50,212.11 L496.00,211.99 L496.50,211.87 L497.00,211.75 L497.50,211.63 L498.00,211.51 L498.50,211.39 L499.00,211.28 L499.50,211.16 L500.00,211.04 L500.50,210.92 L501.00,210.81 L501.50,210.69 L502.00,210.58 L502.50,210.46 L503.00,210.35 L503.50,210.24 L504.00,210.12 L504.50,210.01 L505.00,209.90 L505.50,209.79 L506.00,209.67 L506.50,209.56 L507.00,209.45 L507.50,209.34 L508.00,209.23 L508.50,209.13 L509.00,209.02 L509.50,208.91 L510.00,208.80 L510.50,208.69 L511.00,208.59 L511.50,208.48 L512.00,208.37 L512.50,208.27 L513.00,208.16 L513.50,208.06" stroke="#00ff00"/><path d="M129.50,114.59 L130.00,114.49 L130.50,114.38 L131.00,114.27 L131.50,114.17 L132.00,114.06 L132.50,113.95 L133.00,113.84 L133.50,113.73 L134.00,113.62 L134.50,113.51 L135.00,113.40 L135.50,113.29 L136.00,113.18 L136.50,113.06 L137.00,112.95 L137.50,112.84 L138.00,112.72 L138.50,112.61 L139.00,112.49 L139.50,112.38 L140.00,112.26 L140.50,112.15 L141.00,112.03 L141.50,111.91 L142.00,111.80 L142.50,111.68 L143.00,111.56 L143.50,111.44 L144.00,111.32 L144.50,111.20 L145.00,111.08 L145.50,110.96 L146.00,110.84 L146.50,110.71 L147.00,110.59 L147.50,110.47 L148.00,110.34 L148.50,110.22 L149.00,110.10 L149.50,109.97 L150.00,109.84 L150.50,109.72 L151.00,109.59 L151.50,109.46 L152.00,109.34 L152.50,109.21 L153.00,109.08 L153.50,108.95 L154.00,108.82 L154.50,108.69 L155.00,108.56 L155.50,108.42 L156.00,108.29 L156.50,108.16 L157.00,108.02 L157.50,107.89 L158.00,107.75 L158.50,107.62 L159.00,107.48 L159.50,107.35 L160.00,107.21 L160.50,107.07 L161.00,106.93 L161.50,106.79 L162.00,106.65 L162.50,106.51 L163.00,106.37 L163.50,106.23 L164.00,106.09 L164.50,105.95 L165.00,105.80 L165.50,105.66 L166.00,105.51 L166.50,105.37 L167.00,105.22 L167.50,105.08 L168.00,104.93 L168.50,104.78 L169.00,104.63 L169.50,104.48 L170.00,104.33 L170.50,104.18 L171.00,104.03 L171.50,103.88 L172.00,103.73 L172.50,103.58 L173.00,103.42 L173.50,103.27 L174.00,103.11 L174.50,102.96 L175.00,102.80 L175.50,102.64 L176.00,102.48 L176.50,102.33 L177.00,102.17 L177.50,102.01 L178.00,101.85 L178.50,101.69 L179.00,101.52 L179.50,101.36 L180.00,101.20 L180.50,101.03 L181.00,100.87 L181.50,100.70 L182.00,100.54 L182.50,100.37 L183.00,100.20 L183.50,100.03 L184.00,99.86 L184.50,99.69 L185.00,99.52 L185.50,99.35 L186.00,99.18 L186.50,99.01 L187.00,98.83 L187.50,98.66 L188.00,98.49 L188.50,98.31 L189.00,98.13 L189.50,97.96 L190.00,97.78 L190.50,97.60 L191.00,97.42 L191.50,97.24 L192.00,97.06 L192.50,96.88 L193.00,96.70 L193.50,96.51 L194.00,96.33 L194.50,96.14 L195.00,95.96 L195.50,95.77 L196.00,95.59 L196.50,95.40 L197.00,95.21 L197.50,95.02 L198.00,94.83 L198.50,94.64 L199.00,94.45 L199.50,94.26 L200.00,94.06 L200.50,93.87 L201.00,93.68 L201.50,93.48 L202.00,93.28 L202.50,93.09 L203.00,92.89 L203.50,92.69 L204.00,92.49 L204.50,92.29 L205.00,92.09 L205.50,91.89 L206.00,91.69 L206.50,91.49 L207.00,91.29 L207.50,91.08 L208.00,90.88 L208.50,90.67 L209.00,90.47 L209.50,90.26 L210.00,90.05 L210.50,89.85 L211.00,89.64 L211.50,89.43 L212.00,89.22 L212.50,89.01 L213.00,88.80 L213.50,88.59 L214.00,88.37 L214.50,88.16 L215.00,87.95 L215.50,87.73 L216.00,87.52 L216.50,87.30 L217.00,87.09 L217.50,86.87 L218.00,86.65 L218.50,86.44 L219.00,86.22 L219.50,86.00 L220.00,85.78 L220.50,85.56 L221.00,85.34 L221.50,85.12 L222.00,84.90 L222.50,84.68 L223.00,84.46 L223.50,84.24 L224.00,84.01 L224.50,83.79 L225.00,83.57 L225.50,83.35 L226.00,83.12 L226.50,82.90 L227.00,82.68 L227.50,82.45 L228.00,82.23 L228.50,82.00 L229.00,81.78 L229.50,81.55 L230.00,81.33 L230.50,81.11 L231.00,80.88 L231.50,80.66 L232.00,80.43 L232.50,80.21 L233.00,79.98 L233.50,79.76 L234.00,79.54 L234.50,79.31 L235.00,79.09 L235.50,78.87 L236.00,78.65 L236.50,78.42 L237.00,78.20 L237.50,77.98 L238.00,77.76 L238.50,77.54 L239.00,77.32 L239.50,77.11 L240.00,76.89 L240.50,76.67 L241.00,76.46 L241.50,76.24 L242.00,76.03 L242.50,75.82 L243.00,75.61 L243.50,75.40 L244.00,75.19 L244.50,74.99 L245.00,74.78 L245.50,74.58 L246.00,74.38 L246.50,74.18 L247.00,73.98 L247.50,73.78 L248.00,73.59 L248.50,73.40 L249.00,73.21 L249.50,73.02 L250.00,72.83 L250.50,72.65 L251.00,72.47 L251.50,72.30 L252.00,72.12 L252.50,71.95 L253.00,71.78 L253.50,71.62 L254.00,71.46 L254.50,71.30 L255.00,71.15 L255.50,71.00 L256.00,70.85 L256.50,70.71 L257.00,70.57 L257.50,70.44 L258.00,70.31 L258.50,70.19 L259.00,70.07 L259.50,69.96 L260.00,69.85 L260.50,69.75 L261.00,69.65 L261.50,69.56 L262.00,69.47 L262.50,69.39 L263.00,69.32 L263.50,69.26 L264.00,69.20 L264.50,69.15 L265.00,69.10 L265.50,69.07 L266.00,69.04 L266.50,69.02 L267.00,69.01 L267.50,69.00 L268.00,69.01 L268.50,69.02 L269.00,69.04 L269.50,69.08 L270.00,69.12 L270.50,69.17 L271.00,69.24 L271.50,69.31 L272.00,69.40 L272.50,69.49 L273.00,69.60 L273.50,69.72 L274.00,69.86 L274.50,70.00 L275.00,70.16 L275.50,70.33 L276.00,70.51 L276.50,70.71 L277.00,70.92 L277.50,71.15 L278.00,71.39 L278.50,71.65 L279.00,71.92 L279.50,72.21 L280.00,72.51 L280.50,72.83 L281.00,73.17 L281.50,73.52 L282.00,73.89 L282.50,74.28 L283.00,74.69 L283.50,75.11 L284.00,75.56 L284.50,76.02 L285.00,76.50 L285.50,77.00 L286.00,77.52 L286.50,78.06 L287.00,78.62 L287.50,79.20 L288.00,79.80 L288.50,80.42 L289.00,81.07 L289.50,81.73 L290.00,82.42 L290.50,83.12 L291.00,83.85 L291.50,84.60 L292.00,85.37 L292.50,86.17 L293.00,86.98 L293.50,87.82 L294.00,88.68 L294.50,89.56 L295.00,90.47 L295.50,91.39 L296.00,92.34 L296.50,93.31 L297.00,94.30 L297.50,95.31 L298.00,96.34 L298.50,97.40 L299.00,98.47 L299.50,99.56 L300.00,100.68 L300.50,101.81 L301.00,102.96 L301.50,104.13 L302.00,105.32 L302.50,106.53 L303.00,107.76 L303.50,109.00 L304.00,110.26 L304.50,111.53 L305.00,112.83 L305.50,114.13 L306.00,115.45 L306.50,116.78 L307.00,118.13 L307.50,119.49 L308.00,120.86 L308.50,122.25 L309.00,123.64 L309.50,125.04 L310.00,126.46 L310.50,127.88 L311.00,129.31 L311.50,130.75 L312.00,132.20 L312.50,133.65 L313.00,135.11 L313.50,136.58 L314.00,138.05 L314.50,139.52 L315.00,141.01 L315.50,142.49 L316.00,143.98 L316.50,145.47 L317.00,146.96 L317.50,148.46 L318.00,149.96 L318.50,151.46 L319.00,152.97 L319.50,154.47 L320.00,155.97 L320.50,157.48 L321.00,158.99 L321.50,160.50 L322.00,162.00 L322.50,163.51 L323.00,165.02 L323.50,166.52 L324.00,168.03 L324.50,169.53 L325.00,171.04 L325.50,172.54 L326.00,174.04 L326.50,175.54 L327.00,177.04 L327.50,178.53 L328.00,180.02 L328.50,181.50 L329.00,182.99 L329.50,184.47 L330.00,185.94 L330.50,187.41 L331.00,188.87 L331.50,190.33 L332.00,191.78 L332.50,193.22 L333.00,194.66 L333.50,196.09 L334.00,197.50 L334.50,198.91 L335.00,200.31 L335.50,201.70 L336.00,203.08 L336.50,204.44 L337.00,205.80 L337.50,207.14 L338.00,208.47 L338.50,209.78 L339.00,211.08 L339.50,212.36 L340.00,213.63 L340.50,214.88 L341.00,216.11 L341.50,217.33 L342.00,218.53 L342.50,219.71 L343.00,220.87 L343.50,222.02 L344.00,223.14 L344.50,224.25 L345.00,225.33 L345.50,226.39 L346.00,227.44 L346.50,228.46 L347.00,229.46 L347.50,230.44 L348.00,231.40 L348.50,232.34 L349.00,233.25 L349.50,234.14 L350.00,235.01 L350.50,235.86 L351.00,236.69 L351.50,237.50 L352.00,238.28 L352.50,239.04 L353.00,239.78 L353.50,240.50 L354.00,241.20 L354.50,241.87 L355.00,242.53 L355.50,243.16 L356.00,243.77 L356.50,244.36 L357.00,244.93 L357.50,245.48 L358.00,246.01 L358.50,246.52 L359.00,247.01 L359.50,247.49 L360.00,247.94 L360.50,248.37 L361.00,248.79 L361.50,249.19 L362.00,249.57 L362.50,249.93 L363.00,250.28 L363.50,250.60 L364.00,250.92 L364.50,251.21 L365.00,251.49 L365.50,251.76 L366.00,252.01 L366.50,252.24 L367.00,252.46 L367.50,252.67 L368.00,252.86 L368.50,253.04 L369.00,253.20 L369.50,253.35 L370.00,253.49 L370.50,253.62 L371.00,253.73 L371.50,253.83 L372.00,253.93 L372.50,254.01 L373.00,254.07 L373.50,254.13 L374.00,254.18 L374.50,254.22 L375.00,254.25 L375.50,254.27 L376.00,254.28 L376.50,254.28 L377.00,254.27 L377.50,254.25 L378.00,254.23 L378.50,254.20 L379.00,254.16 L379.50,254.11 L380.00,254.05 L380.50,253.99 L381.00,253.92 L381.50,253.85 L382.00,253.77 L382.50,253.68 L383.00,253.59 L383.50,253.49 L384.00,253.38 L384.50,253.27 L385.00,253.15 L385.50,253.03 L386.00,252.91 L386.50,252.78 L387.00,252.64 L387.50,252.50 L388.00,252.36 L388.50,252.21 L389.00,252.06 L389.50,251.90 L390.00,251.75 L390.50,251.58 L391.00,251.42 L391.50,251.25 L392.00,251.08 L392.50,250.90 L393.00,250.72 L393.50,250.54 L394.00,250.36 L394.50,250.17 L395.00,249.98 L395.50,249.79 L396.00,249.60 L396.50,249.41 L397.00,249.21 L397.50,249.01 L398.00,248.81 L398.50,248.61 L399.00,248.40 L399.50,248.20 L400.00,247.99 L400.50,247.78 L401.00,247.57 L401.50,247.36 L402.00,247.15 L402.50,246.93 L403.00,246.72 L403.50,246.50 L404.00,246.29 L404.50,246.07 L405.00,245.85 L405.50,245.63 L406.00,245.41 L406.50,245.19 L407.00,244.97 L407.50,244.75 L408.00,244.53 L408.50,244.31 L409.00,244.08 L409.50,243.86 L410.00,243.64 L410.50,243.41 L411.00,243.19 L411.50,242.96 L412.00,242.74 L412.50,242.52 L413.00,242.29 L413.50,242.07 L414.00,241.84 L414.50,241.62 L415.00,241.39 L415.50,241.17 L416.00,240.95 L416.50,240.72 L417.00,240.50 L417.50,240.27 L418.00,240.05 L418.50,239.83 L419.00,239.60 L419.50,239.38 L420.00,239.16 L420.50,238.94 L421.00,238.72 L421.50,238.50 L422.00,238.27 L422.50,238.05 L423.00,237.83 L423.50,237.61 L424.00,237.39 L424.50,237.18 L425.00,236.96 L425.50,236.74 L426.00,236.52 L426.50,236.31 L427.00,236.09 L427.50,235.87 L428.00,235.66 L428.50,235.45 L429.00,235.23 L429.50,235.02 L430.00,234.81 L430.50,234.59 L431.00,234.38 L431.50,234.17 L432.00,233.96 L432.50,233.75 L433.00,233.54 L433.50,233.33 L434.00,233.13 L434.50,232.92 L435.00,232.71 L435.50,232.51 L436.00,232.30 L436.50,232.10 L437.00,231.90 L437.50,231.69 L438.00,231.49 L438.50,231.29 L439.00,231.09 L439.50,230.89 L440.00,230.69 L440.50,230.49 L441.00,230.29 L441.50,230.10 L442.00,229.90 L442.50,229.71 L443.00,229.51 L443.50,229.32 L444.00,229.12 L444.50,228.93 L445.00,228.74 L445.50,228.55 L446.00,228.36 L446.50,228.17 L447.00,227.98 L447.50,227.79 L448.00,227.61 L448.50,227.42 L449.00,227.23 L449.50,227.05 L450.00,226.86 L450.50,226.68 L451.00,226.50 L451.50,226.32 L452.00,226.13 L452.50,225.95 L453.00,225.77 L453.50,225.60 L454.00,225.42 L454.50,225.24 L455.00,225.06 L455.50,224.89 L456.00,224.71 L456.50,224.54 L457.00,224.36 L457.50,224.19 L458.00,224.02 L458.50,223.85 L459.00,223.67 L459.50,223.50 L460.00,223.34 L460.50,223.17 L461.00,223.00 L461.50,222.83 L462.00,222.66 L462.50,222.50 L463.00,222.33 L463.50,222.17 L464.00,222.01 L464.50,221.84 L465.00,221.68 L465.50,221.52 L466.00,221.36 L466.50,221.20 L467.00,221.04 L467.50,220.88 L468.00,220.72 L468.50,220.56 L469.00,220.41 L469.50,220.25 L470.00,220.09 L470.50,219.94 L471.00,219.79 L471.50,219.63 L472.00,219.48 L472.50,219.33 L473.00,219.18 L473.50,219.02 L474.00,218.87 L474.50,218.73 L475.00,218.58 L475.50,218.43 L476.00,218.28 L476.50,218.13 L477.00,217.99 L477.50,217.84 L478.00,217.70 L478.50,217.55 L479.00,217.41 L479.50,217.27 L480.00,217.12 L480.50,216.98 L481.00,216.84 L481.50,216.70 L482.00,216.56 L482.50,216.42 L483.00,216.28 L483.50,216.14 L484.00,216.01 L484.50,215.87 L485.00,215.73 L485.50,215.60 L486.00,215.46 L486.50,215.33 L487.00,215.19 L487.50,215.06 L488.00,214.93 L488.50,214.79 L489.00,214.66 L489.50,214.53 L490.00,214.40 L490.50,214.27 L491.00,214.14 L491.50,214.01 L492.00,213.88 L492.50,213.76 L493.00,213.63 L493.50,213.50 L494.00,213.38 L494.50,213.25 L495.00,213.12 L495.50,213.00 L496.00,212.88 L496.50,212.75 L497.00,212.63 L497.50,212.51 L498.00,212.39 L498.50,212.26 L499.00,212.14 L499.50,212.02 L500.00,211.90 L500.50,211.78 L501.00,211.66 L501.50,211.55 L502.00,211.43 L502.50,211.31 L503.00,211.19 L503.50,211.08 L504.00,210.96 L504.50,210.85 L505.00,210.73 L505.50,210.62 L506.00,210.50 L506.50,210.39 L507.00,210.28 L507.50,210.16 L508.00,210.05 L508.50,209.94 L509.00,209.83 L509.50,209.72 L510.00,209.61 L510.50,209.50 L511.00,209.39 L511.50,209.28 L512.00,209.17 L512.50,209.06 L513.00,208.96 L513.50,208.85" stroke="#0000ff"/><path d="M129.50,114.10 L130.00,113.99 L130.50,113.88 L131.00,113.77 L131.50,113.66 L132.00,113.55 L132.50,113.44 L133.00,113.33 L133.50,113.21 L134.00,113.10 L134.50,112.99 L135.00,112.87 L135.50,112.76 L136.00,112.64 L136.50,112.52 L137.00,112.41 L137.50,112.29 L138.00,112.17 L138.50,112.05 L139.00,111.94 L139.50,111.82 L140.00,111.70 L140.50,111.58 L141.00,111.46 L141.50,111.33 L142.00,111.21 L142.50,111.09 L143.00,110.97 L143.50,110.84 L144.00,110.72 L144.50,110.59 L145.00,110.47 L145.50,110.34 L146.00,110.22 L146.50,110.09 L147.00,109.96 L147.50,109.84 L148.00,109.71 L148.50,109.58 L149.00,109.45 L149.50,109.32 L150.00,109.19 L150.50,109.06 L151.00,108.92 L151.50,108.79 L152.00,108.66 L152.50,108.52 L153.00,108.39 L153.50,108.25 L154.00,108.12 L154.50,107.98 L155.00,107.84 L155.50,107.71 L156.00,107.57 L156.50,107.43 L157.00,107.29 L157.50,107.15 L158.00,107.01 L158.50,106.87 L159.00,106.73 L159.50,106.58 L160.00,106.44 L160.50,106.30 L161.00,106.15 L161.50,106.01 L162.00,105.86 L162.50,105.71 L163.00,105.56 L163.50,105.42 L164.00,105.27 L164.50,105.12 L165.00,104.97 L165.50,104.82 L166.00,104.67 L166.50,104.51 L167.00,104.36 L167.50,104.21 L168.00,104.05 L168.50,103.90 L169.00,103.74 L169.50,103.58 L170.00,103.43 L170.50,103.27 L171.00,103.11 L171.50,102.95 L172.00,102.79 L172.50,102.63 L173.00,102.47 L173.50,102.30 L174.00,102.14 L174.50,101.97 L175.00,101.81 L175.50,101.64 L176.00,101.48 L176.50,101.31 L177.00,101.14 L177.50,100.97 L178.00,100.80 L178.50,100.63 L179.00,100.46 L179.50,100.29 L180.00,100.12 L180.50,99.94 L181.00,99.77 L181.50,99.59 L182.00,99.41 L182.50,99.24 L183.00,99.06 L183.50,98.88 L184.00,98.70 L184.50,98.52 L185.00,98.34 L185.50,98.16 L186.00,97.97 L186.50,97.79 L187.00,97.60 L187.50,97.42 L188.00,97.23 L188.50,97.04 L189.00,96.85 L189.50,96.67 L190.00,96.48 L190.50,96.28 L191.00,96.09 L191.50,95.90 L192.00,95.70 L192.50,95.51 L193.00,95.31 L193.50,95.12 L194.00,94.92 L194.50,94.72 L195.00,94.52 L195.50,94.32 L196.00,94.12 L196.50,93.92 L197.00,93.71 L197.50,93.51 L198.00,93.31 L198.50,93.10 L199.00,92.89 L199.50,92.68 L200.00,92.48 L200.50,92.27 L201.00,92.06 L201.50,91.84 L202.00,91.63 L202.50,91.42 L203.00,91.20 L203.50,90.99 L204.00,90.77 L204.50,90.55 L205.00,90.33 L205.50,90.11 L206.00,89.89 L206.50,89.67 L207.00,89.45 L207.50,89.23 L208.00,89.00 L208.50,88.78 L209.00,88.55 L209.50,88.32 L210.00,88.10 L210.50,87.87 L211.00,87.64 L211.50,87.40 L212.00,87.17 L212.50,86.94 L213.00,86.71 L213.50,86.47 L214.00,86.23 L214.50,86.00 L215.00,85.76 L215.50,85.52 L216.00,85.28 L216.50,85.04 L217.00,84.80 L217.50,84.56 L218.00,84.31 L218.50,84.07 L219.00,83.82 L219.50,83.58 L220.00,83.33 L220.50,83.08 L221.00,82.83 L221.50,82.58 L222.00,82.33 L222.50,82.08 L223.00,81.83 L223.50,81.58 L224.00,81.32 L224.50,81.07 L225.00,80.81 L225.50,80.56 L226.00,80.30 L226.50,80.04 L227.00,79.79 L227.50,79.53 L228.00,79.27 L228.50,79.01 L229.00,78.75 L229.50,78.49 L230.00,78.22 L230.50,77.96 L231.00,77.70 L231.50,77.43 L232.00,77.17 L232.50,76.90 L233.00,76.64 L233.50,76.37 L234.00,76.11 L234.50,75.84 L235.00,75.57 L235.50,75.31 L236.00,75.04 L236.50,74.77 L237.00,74.50 L237.50,74.23 L238.00,73.97 L238.50,73.70 L239.00,73.43 L239.50,73.16 L240.00,72.89 L240.50,72.63 L241.00,72.36 L241.50,72.09 L242.00,71.82 L242.50,71.55 L243.00,71.29 L243.50,71.02 L244.00,70.75 L244.50,70.49 L245.00,70.22 L245.50,69.96 L246.00,69.70 L246.50,69.43 L247.00,69.17 L247.50,68.91 L248.00,68.65 L248.50,68.39 L249.00,68.13 L249.50,67.88 L250.00,67.62 L250.50,67.37 L251.00,67.12 L251.50,66.87 L252.00,66.62 L252.50,66.37 L253.00,66.13 L253.50,65.89 L254.00,65.65 L254.50,65.41 L255.00,65.17 L255.50,64.94 L256.00,64.71 L256.50,64.48 L257.00,64.26 L257.50,64.04 L258.00,63.82 L258.50,63.61 L259.00,63.40 L259.50,63.19 L260.00,62.99 L260.50,62.79 L261.00,62.59 L261.50,62.40 L262.00,62.22 L262.50,62.04 L263.00,61.86 L263.50,61.69 L264.00,61.53 L264.50,61.37 L265.00,61.21 L265.50,61.07 L266.00,60.93 L266.50,60.79 L267.00,60.66 L267.50,60.54 L268.00,60.43 L268.50,60.33 L269.00,60.23 L269.50,60.14 L270.00,60.06 L270.50,59.99 L271.00,59.93 L271.50,59.87 L272.00,59.83 L272.50,59.79 L273.00,59.77 L273.50,59.76 L274.00,59.76 L274.50,59.77 L275.00,59.79 L275.50,59.82 L276.00,59.87 L276.50,59.93 L277.00,60.00 L277.50,60.09 L278.00,60.18 L278.50,60.30 L279.00,60.43 L279.50,60.57 L280.00,60.73 L280.50,60.91 L281.00,61.10 L281.50,61.31 L282.00,61.54 L282.50,61.78 L283.00,62.04 L283.50,62.33 L284.00,62.63 L284.50,62.95 L285.00,63.29 L285.50,63.65 L286.00,64.03 L286.50,64.44 L287.00,64.86 L287.50,65.31 L288.00,65.78 L288.50,66.28 L289.00,66.79 L289.50,67.34 L290.00,67.91 L290.50,68.50 L291.00,69.12 L291.50,69.76 L292.00,70.43 L292.50,71.13 L293.00,71.86 L293.50,72.61 L294.00,73.39 L294.50,74.21 L295.00,75.04 L295.50,75.91 L296.00,76.81 L296.50,77.74 L297.00,78.70 L297.50,79.69 L298.00,80.71 L298.50,81.76 L299.00,82.84 L299.50,83.95 L300.00,85.10 L300.50,86.27 L301.00,87.48 L301.50,88.72 L302.00,89.99 L302.50,91.29 L303.00,92.63 L303.50,93.99 L304.00,95.39 L304.50,96.82 L305.00,98.27 L305.50,99.76 L306.00,101.29 L306.50,102.84 L307.00,104.42 L307.50,106.03 L308.00,107.66 L308.50,109.33 L309.00,111.03 L309.50,112.75 L310.00,114.50 L310.50,116.27 L311.00,118.07 L311.50,119.90 L312.00,121.75 L312.50,123.62 L313.00,125.51 L313.50,127.43 L314.00,129.36 L314.50,131.31 L315.00,133.29 L315.50,135.28 L316.00,137.28 L316.50,139.30 L317.00,141.33 L317.50,143.38 L318.00,145.44 L318.50,147.50 L319.00,149.58 L319.50,151.66 L320.00,153.75 L320.50,155.85 L321.00,157.94 L321.50,160.04 L322.00,162.15 L322.50,164.25 L323.00,166.35 L323.50,168.44 L324.00,170.53 L324.50,172.62 L325.00,174.70 L325.50,176.77 L326.00,178.84 L326.50,180.89 L327.00,182.93 L327.50,184.95 L328.00,186.97 L328.50,188.96 L329.00,190.94 L329.50,192.91 L330.00,194.85 L330.50,196.78 L331.00,198.68 L331.50,200.57 L332.00,202.43 L332.50,204.26 L333.00,206.08 L333.50,207.86 L334.00,209.63 L334.50,211.36 L335.00,213.07 L335.50,214.75 L336.00,216.41 L336.50,218.03 L337.00,219.63 L337.50,221.19 L338.00,222.73 L338.50,224.24 L339.00,225.71 L339.50,227.16 L340.00,228.57 L340.50,229.95 L341.00,231.30 L341.50,232.62 L342.00,233.91 L342.50,235.16 L343.00,236.39 L343.50,237.58 L344.00,238.74 L344.50,239.87 L345.00,240.97 L345.50,242.03 L346.00,243.07 L346.50,244.07 L347.00,245.05 L347.50,245.99 L348.00,246.90 L348.50,247.79 L349.00,248.64 L349.50,249.47 L350.00,250.27 L350.50,251.03 L351.00,251.77 L351.50,252.49 L352.00,253.17 L352.50,253.83 L353.00,254.46 L353.50,255.07 L354.00,255.65 L354.50,256.21 L355.00,256.74 L355.50,257.25 L356.00,257.73 L356.50,258.19 L357.00,258.63 L357.50,259.04 L358.00,259.44 L358.50,259.81 L359.00,260.16 L359.50,260.49 L360.00,260.80 L360.50,261.09 L361.00,261.37 L361.50,261.62 L362.00,261.86 L362.50,262.07 L363.00,262.28 L363.50,262.46 L364.00,262.63 L364.50,262.78 L365.00,262.92 L365.50,263.04 L366.00,263.15 L366.50,263.24 L367.00,263.32 L367.50,263.38 L368.00,263.44 L368.50,263.48 L369.00,263.50 L369.50,263.52 L370.00,263.52 L370.50,263.52 L371.00,263.50 L371.50,263.47 L372.00,263.43 L372.50,263.38 L373.00,263.33 L373.50,263.26 L374.00,263.18 L374.50,263.10 L375.00,263.01 L375.50,262.90 L376.00,262.80 L376.50,262.68 L377.00,262.56 L377.50,262.43 L378.00,262.29 L378.50,262.14 L379.00,261.99 L379.50,261.84 L380.00,261.68 L380.50,261.51 L381.00,261.34 L381.50,261.16 L382.00,260.98 L382.50,260.79 L383.00,260.60 L383.50,260.40 L384.00,260.20 L384.50,259.99 L385.00,259.78 L385.50,259.57 L386.00,259.36 L386.50,259.14 L387.00,258.91 L387.50,258.69 L388.00,258.46 L388.50,258.23 L389.00,257.99 L389.50,257.76 L390.00,257.52 L390.50,257.28 L391.00,257.03 L391.50,256.79 L392.00,256.54 L392.50,256.29 L393.00,256.04 L393.50,255.79 L394.00,255.53 L394.50,255.28 L395.00,255.02 L395.50,254.76 L396.00,254.51 L396.50,254.24 L397.00,253.98 L397.50,253.72 L398.00,253.46 L398.50,253.19 L399.00,252.93 L399.50,252.66 L400.00,252.40 L400.50,252.13 L401.00,251.87 L401.50,251.60 L402.00,251.33 L402.50,251.06 L403.00,250.79 L403.50,250.53 L404.00,250.26 L404.50,249.99 L405.00,249.72 L405.50,249.45 L406.00,249.19 L406.50,248.92 L407.00,248.65 L407.50,248.38 L408.00,248.11 L408.50,247.85 L409.00,247.58 L409.50,247.31 L410.00,247.05 L410.50,246.78 L411.00,246.51 L411.50,246.25 L412.00,245.98 L412.50,245.72 L413.00,245.46 L413.50,245.19 L414.00,244.93 L414.50,244.67 L415.00,244.41 L415.50,244.15 L416.00,243.89 L416.50,243.63 L417.00,243.37 L417.50,243.11 L418.00,242.86 L418.50,242.60 L419.00,242.34 L419.50,242.09 L420.00,241.83 L420.50,241.58 L421.00,241.33 L421.50,241.08 L422.00,240.83 L422.50,240.58 L423.00,240.33 L423.50,240.08 L424.00,239.83 L424.50,239.58 L425.00,239.34 L425.50,239.09 L426.00,238.85 L426.50,238.61 L427.00,238.37 L427.50,238.12 L428.00,237.88 L428.50,237.64 L429.00,237.41 L429.50,237.17 L430.00,236.93 L430.50,236.70 L431.00,236.46 L431.50,236.23 L432.00,236.00 L432.50,235.77 L433.00,235.53 L433.50,235.30 L434.00,235.08 L434.50,234.85 L435.00,234.62 L435.50,234.40 L436.00,234.17 L436.50,233.95 L437.00,233.72 L437.50,233.50 L438.00,233.28 L438.50,233.06 L439.00,232.84 L439.50,232.62 L440.00,232.41 L440.50,232.19 L441.00,231.98 L441.50,231.76 L442.00,231.55 L442.50,231.34 L443.00,231.12 L443.50,230.91 L444.00,230.70 L444.50,230.50 L445.00,230.29 L445.50,230.08 L446.00,229.88 L446.50,229.67 L447.00,229.47 L447.50,229.27 L448.00,229.06 L448.50,228.86 L449.00,228.66 L449.50,228.46 L450.00,228.27 L450.50,228.07 L451.00,227.87 L451.50,227.68 L452.00,227.48 L452.50,227.29 L453.00,227.10 L453.50,226.90 L454.00,226.71 L454.50,226.52 L455.00,226.34 L455.50,226.15 L456.00,225.96 L456.50,225.77 L457.00,225.59 L457.50,225.40 L458.00,225.22 L458.50,225.04 L459.00,224.86 L459.50,224.67 L460.00,224.49 L460.50,224.31 L461.00,224.14 L461.50,223.96 L462.00,223.78 L462.50,223.61 L463.00,223.43 L463.50,223.26 L464.00,223.08 L464.50,222.91 L465.00,222.74 L465.50,222.57 L466.00,222.40 L466.50,222.23 L467.00,222.06 L467.50,221.89 L468.00,221.72 L468.50,221.56 L469.00,221.39 L469.50,221.23 L470.00,221.06 L470.50,220.90 L471.00,220.74 L471.50,220.58 L472.00,220.41 L472.50,220.25 L473.00,220.10 L473.50,219.94 L474.00,219.78 L474.50,219.62 L475.00,219.47 L475.50,219.31 L476.00,219.15 L476.50,219.00 L477.00,218.85 L477.50,218.69 L478.00,218.54 L478.50,218.39 L479.00,218.24 L479.50,218.09 L480.00,217.94 L480.50,217.79 L481.00,217.64 L481.50,217.50 L482.00,217.35 L482.50,217.21 L483.00,217.06 L483.50,216.92 L484.00,216.77 L484.50,216.63 L485.00,216.49 L485.50,216.34 L486.00,216.20 L486.50,216.06 L487.00,215.92 L487.50,215.78 L488.00,215.65 L488.50,215.51 L489.00,215.37 L489.50,215.23 L490.00,215.10 L490.50,214.96 L491.00,214.83 L491.50,214.69 L492.00,214.56 L492.50,214.43 L493.00,214.29 L493.50,214.16 L494.00,214.03 L494.50,213.90 L495.00,213.77 L495.50,213.64 L496.00,213.51 L496.50,213.38 L497.00,213.26 L497.50,213.13 L498.00,213.00 L498.50,212.88 L499.00,212.75 L499.50,212.63 L500.00,212.50 L500.50,212.38 L501.00,212.25 L501.50,212.13 L502.00,212.01 L502.50,211.89 L503.00,211.77 L503.50,211.65 L504.00,211.53 L504.50,211.41 L505.00,211.29 L505.50,211.17 L506.00,211.05 L506.50,210.93 L507.00,210.82 L507.50,210.70 L508.00,210.59 L508.50,210.47 L509.00,210.36 L509.50,210.24 L510.00,210.13 L510.50,210.01 L511.00,209.90 L511.50,209.79 L512.00,209.68 L512.50,209.56 L513.00,209.45 L513.50,209.34" stroke="#ff00ff"/>
</g>
<g fill="none" stroke-width="1">
<path d="M129.5,280.5v-4.5 M129.5,43.5v4.5 M145.5,280.5v-2.5 M145.5,43.5v2.5 M161.5,280.5v-2.5 M161.5,43.5v2.5 M177.5,280.5v-2.5 M177.5,43.5v2.5 M193.5,280.5v-4.5 M193.5,43.5v4.5 M209.5,280.5v-2.5 M209.5,43.5v2.5 M225.5,280.5v-2.5 M225.5,43.5v2.5 M241.5,280.5v-2.5 M241.5,43.5v2.5 M257.5,280.5v-4.5 M257.5,43.5v4.5 M273.5,280.5v-2.5 M273.5,43.5v2.5 M289.5,280.5v-2.5 M289.5,43.5v2.5 M305.5,280.5v-2.5 M305.5,43.5v2.5 M321.5,280.5v-4.5 M321.5,43.5v4.5 M337.5,280.5v-2.5 M337.5,43.5v2.5 M353.5,280.5v-2.5 M353.5,43.5v2.5 M369.5,280.5v-2.5 M369.5,43.5v2.5 M385.5,280.5v-4.5 M385.5,43.5v4.5 M401.5,280.5v-2.5 M401.5,43.5v2.5 M417.5,280.5v-2.5 M417.5,43.5v2.5 M433.5,280.5v-2.5 M433.5,43.5v2.5 M449.5,280.5v-4.5 M449.5,43.5v4.5 M465.5,280.5v-2.5 M465.5,43.5v2.5 M481.5,280.5v-2.5 M481.5,43.5v2.5 M497.5,280.5v-2.5 M497.5,43.5v2.5 M513.5,280.5v-4.5 M513.5,43.5v4.5" stroke="#bcbcbc"/>
<path d="M129.5,43.15h5 M513.5,43.15h-4.5 M129.5,53.02h3 M513.5,53.02h-2.5 M129.5,62.90h3 M513.5,62.90h-2.5 M129.5,72.78h3 M513.5,72.78h-2.5 M129.5,82.65h5 M513.5,82.65h-4.5 M129.5,92.53h3 M513.5,92.53h-2.5 M129.5,102.40h3 M513.5,102.40h-2.5 M129.5,112.28h3 M513.5,112.28h-2.5 M129.5,122.15h5 M513.5,122.15h-4.5 M129.5,132.03h3 M513.5,132.03h-2.5 M129.5,141.90h3 M513.5,141.90h-2.5 M129.5,151.78h3 M513.5,151.78h-2.5 M129.5,161.65h5 M513.5,161.65h-4.5 M129.5,171.53h3 M513.5,171.53h-2.5 M129.5,181.40h3 M513.5,181.40h-2.5 M129.5,191.28h3 M513.5,191.28h-2.5 M129.5,201.15h5 M513.5,201.15h-4.5 M129.5,211.03h3 M513.5,211.03h-2.5 M129.5,220.90h3 M513.5,220.90h-2.5 M129.5,230.78h3 M513.5,230.78h-2.5 M129.5,240.65h5 M513.5,240.65h-4.5 M129.5,250.53h3 M513.5,250.53h-2.5 M129.5,260.40h3 M513.5,260.40h-2.5 M129.5,270.27h3 M513.5,270.27h-2.5 M129.5,280.15h5 M513.5,280.15h-4.5" stroke="#9c9c9c"/>
<path d="M129.0,43.5H514.0" stroke="#b6b6b6"/>
<path d="M129.0,280.5H514.0" stroke="#c0c0c0"/>
<path d="M129.5,43.5V280.5" stroke="#cdcdcd"/>
<path d="M513.5,43.5V280.5" stroke="#cccccc"/>
</g>
<g text-anchor="middle"><text transform="translate(129.8,308.8) scale(1,1.04)">1.540</text><text transform="translate(193.8,308.8) scale(1,1.04)">1.542</text><text transform="translate(257.8,308.8) scale(1,1.04)">1.544</text><text transform="translate(321.8,308.8) scale(1,1.04)">1.546</text><text transform="translate(385.8,308.8) scale(1,1.04)">1.548</text><text transform="translate(449.8,308.8) scale(1,1.04)">1.550</text><text transform="translate(513.8,308.8) scale(1,1.04)">1.552</text></g>
<g text-anchor="end"><text transform="translate(124.2,52.1) scale(1,1.04)">0.006</text><text transform="translate(124.2,91.6) scale(1,1.04)">0.004</text><text transform="translate(124.2,131.1) scale(1,1.04)">0.002</text><text transform="translate(124.2,170.6) scale(1,1.04)">0.000</text><text transform="translate(124.2,210.1) scale(1,1.04)">0.002</text><text transform="translate(124.2,249.6) scale(1,1.04)">0.004</text><text transform="translate(124.2,289.1) scale(1,1.04)">0.006</text></g>
<text x="49.7" y="211.5" style="font-size:27.5px">−</text><text x="49.7" y="251.0" style="font-size:27.5px">−</text><text x="49.7" y="290.5" style="font-size:27.5px">−</text>
<text transform="translate(32,162.2) rotate(-90)" text-anchor="middle" style="font-size:25.7px">Δn(<tspan font-style="italic">ω</tspan>)/n</text>
<text x="321.7" y="347.5" text-anchor="middle" style="font-size:25px"><tspan font-style="italic">ħω</tspan> (eV)</text>
</svg>
</body></html>
